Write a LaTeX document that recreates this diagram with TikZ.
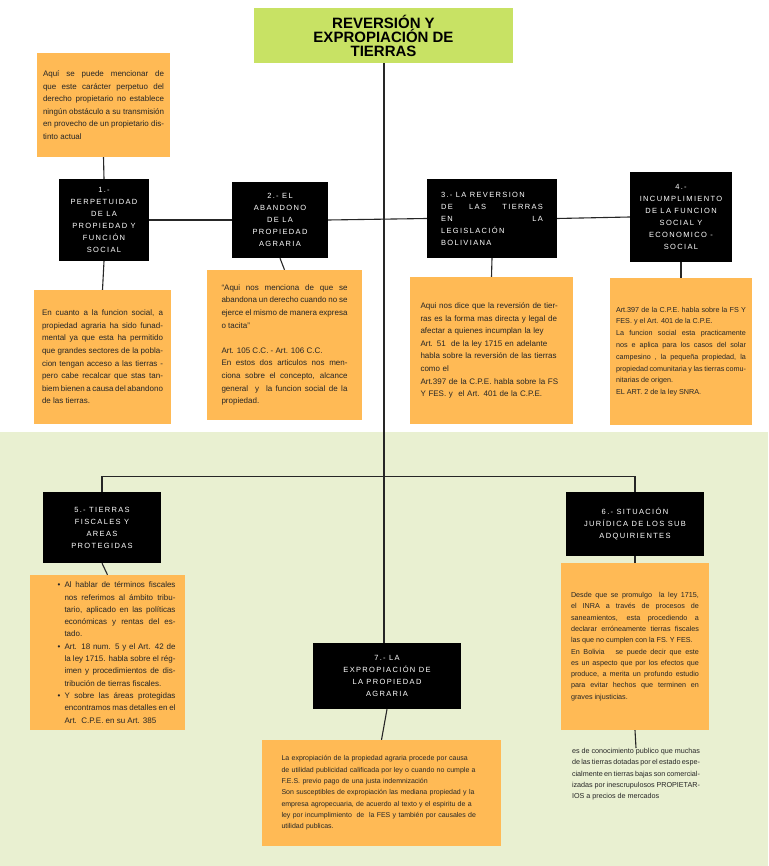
\documentclass[tikz,border=0pt]{standalone}
\usepackage{fontspec}
\setmainfont{Liberation Sans}
\newfontfamily\spaced{Liberation Sans}[LetterSpace=18]
\begin{document}
\begin{tikzpicture}[x=1pt,y=-1pt,
 blk/.style={fill=black,text=white,font=\spaced\fontsize{7.5}{12}\selectfont,align=center,inner sep=0},
 note/.style={fill=noteor,text=black!85,font=\fontsize{8}{12.6}\selectfont,align=justify,inner sep=0},
 ln/.style={line width=1.1pt,black!85}]
\definecolor{noteor}{HTML}{FFBA55}
\definecolor{bggreen}{HTML}{E9F0D1}
\definecolor{titlegreen}{HTML}{C8E264}
\useasboundingbox (0,0) rectangle (768,866);
\fill[white] (0,0) rectangle (768,432);
\fill[bggreen] (0,432) rectangle (768,866);
% title
\node[fill=titlegreen,minimum width=259,minimum height=55,inner sep=0,align=center,font=\bfseries\fontsize{15}{14}\selectfont] (t) at (383.5,35.5) {REVERSIÓN Y\\EXPROPIACIÓN DE\\TIERRAS};
% boxes
\node[blk,minimum width=90,minimum height=82] (b1) at (104,220) {1.-\\PERPETUIDAD\\DE LA\\PROPIEDAD Y\\FUNCIÓN\\SOCIAL};
\node[blk,minimum width=96,minimum height=76] (b2) at (280,220) {2.- EL\\ABANDONO\\DE LA\\PROPIEDAD\\AGRARIA};
\node[blk,minimum width=130,minimum height=79] (b3) at (492,218.5) {\begin{minipage}{102pt}\spaced\fontsize{7.5}{12}\selectfont 3.- LA REVERSION\\DE\hfill LAS\hfill TIERRAS\\EN\hfill LA\\LEGISLACIÓN\\BOLIVIANA\end{minipage}};
\node[blk,minimum width=102,minimum height=90] (b4) at (681,217) {4.-\\INCUMPLIMIENTO\\DE LA FUNCION\\SOCIAL Y\\ECONOMICO -\\SOCIAL};
\node[blk,minimum width=118,minimum height=71] (b5) at (102,527.5) {5.- TIERRAS\\FISCALES Y\\AREAS\\PROTEGIDAS};
\node[blk,minimum width=138,minimum height=64] (b6) at (635,524) {6.- SITUACIÓN\\JURÍDICA DE LOS SUB\\ADQUIRIENTES};
\node[blk,minimum width=148,minimum height=66] (b7) at (387,676) {7.- LA\\EXPROPIACIÓN DE\\LA PROPIEDAD\\AGRARIA};
% notes
\node[note,minimum width=133,minimum height=104,text width=121] (n1a) at (103.5,105) {Aquí se puede mencionar de que este carácter perpetuo del derecho propietario no establece ningún obstáculo a su transmisión en provecho de un propietario distinto actual};
\node[note,minimum width=137,minimum height=134,text width=121] (n1) at (102.5,357) {En cuanto a la funcion social, a propiedad agraria ha sido funadmental ya que esta ha permitido que grandes sectores de la poblacion tengan acceso a las tierras - pero cabe recalcar que stas tanbiem bienen a causa del abandono de las tierras.};
\node[note,minimum width=155,minimum height=150,text width=126] (n2) at (284.5,345) {``Aqui nos menciona de que se abandona un derecho cuando no se ejerce el mismo de manera expresa o tacita''\\[12.6pt]Art. 105 C.C. - Art. 106 C.C.\\\ \ En estos dos articulos nos menciona sobre el concepto, alcance general\ \ y\ \ la funcion social de la propiedad.};
\node[note,minimum width=163,minimum height=147,align=left,text width=142] (n3) at (491.5,350.5) {Aqui nos dice que la reversión de tierras es la forma mas directa y legal de afectar a quienes incumplan la ley\\Art. 51\ \ de la ley 1715 en adelante habla sobre la reversión de las tierras como el\\Art.397 de la C.P.E. habla sobre la FS Y FES. y\ \ el Art. 401 de la C.P.E.};
\node[note,minimum width=142,minimum height=147,text width=130,font=\fontsize{7.2}{11.8}\selectfont] (n4) at (681,351.5) {Art.397 de la C.P.E. habla sobre la FS Y FES. y el Art. 401 de la C.P.E.\\La funcion social esta practicamente\ \ nos e aplica para los casos del solar campesino , la pequeña propiedad, la propiedad comunitaria y las tierras comunitarias de origen.\\EL ART. 2 de la ley SNRA.};
\node[note,minimum width=155,minimum height=155,text width=136] (n5) at (107.5,652.5) {\begin{minipage}{136pt}\fontsize{8}{12.3}\selectfont
\begin{itemize}\setlength{\itemsep}{0pt}\setlength{\parskip}{0pt}\setlength{\leftmargin}{9pt}\setlength{\labelsep}{4pt}
\item[\textbullet] Al hablar de términos fiscales nos referimos al ámbito tributario, aplicado en las políticas económicas y rentas del estado.
\item[\textbullet] Art. 18 num. 5 y el Art. 42 de la ley 1715. habla sobre el régimen y procedimientos de distribución de tierras fiscales.
\item[\textbullet] Y sobre las áreas protegidas encontramos mas detalles en el Art.\ \ C.P.E. en su Art. 385
\end{itemize}\end{minipage}};
\node[note,minimum width=148,minimum height=167,text width=128,font=\fontsize{7.2}{11.3}\selectfont] (n6) at (635,646.5) {Desde que se promulgo\ \ la ley 1715, el INRA a través de procesos de saneamientos, esta procediendo a declarar erróneamente tierras fiscales las que no cumplen con la FS. Y FES.\\En Bolivia\ \ \ se puede decir que este es un aspecto que por los efectos que produce, a merita un profundo estudio para evitar hechos que terminen en graves injusticias.};
\node[text width=128,align=justify,inner sep=0,anchor=north,text=black!85,font=\fontsize{7.2}{11.3}\selectfont] (n6b) at (636,748) {es de conocimiento publico que muchas de las tierras dotadas por el estado especialmente en tierras bajas son comercializadas por inescrupulosos PROPIETARIOS a precios de mercados};
\node[note,minimum width=239,minimum height=106,text width=200,align=left,font=\fontsize{7}{11.3}\selectfont] (n7) at (381.5,793) {La expropiación de la propiedad agraria procede por causa de utilidad publicidad calificada por ley o cuando no cumple a F.E.S. previo pago de una justa indemnización\\Son susceptibles de expropiación las mediana propiedad y la empresa agropecuaria, de acuerdo al texto y el espiritu de a ley por incumplimiento\ \ de\ \ la FES y también por causales de utilidad publicas.};
% connectors
\coordinate (top) at (384,63);
\coordinate (c7) at (384,643);
\draw[ln] (top) -- (c7);
\draw[ln] (b1.east) -- (b2.west);
\draw[ln] (b2.east) -- (b3.west);
\draw[ln] (b3.east) -- (b4.west);
\draw[ln] (b1.north) -- (n1a.south);
\draw[ln] (b1.south) -- (n1.north);
\draw[ln] (b2.south) -- (n2.north);
\draw[ln] (b3.south) -- (n3.north);
\draw[ln] (b4.south) -- (n4.north);
\draw[ln] (b5.north) -- ++(0,-15) -| (b6.north);
\draw[ln] (b5.south) -- (n5.north);
\draw[ln] (b6.south) -- (n6.north);
\draw[ln] (n6.south) -- (n6b.north);
\draw[ln] (b7.south) -- (n7.north);
\end{tikzpicture}
\end{document}
